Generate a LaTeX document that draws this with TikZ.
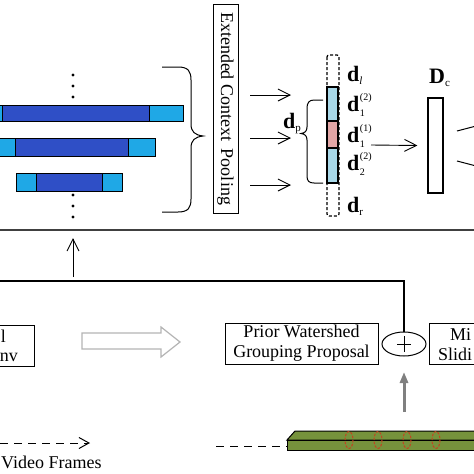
\documentclass[tikz,border=0pt]{standalone}
\usepackage{amsmath}
\usepackage{fontspec}
\setmainfont{Liberation Serif}
\usetikzlibrary{arrows.meta,shapes.geometric}
\definecolor{darkbar}{HTML}{2F4FC6}
\definecolor{lightbar}{HTML}{1FA8E6}
\definecolor{colblue}{HTML}{A8D8E8}
\definecolor{colpink}{HTML}{E2A6A6}
\definecolor{slab}{HTML}{76923C}
\definecolor{ringred}{HTML}{C8401E}
\definecolor{hollow}{HTML}{B4B4B4}
\definecolor{rule}{HTML}{404040}
\newcommand{\scr}[1]{{\fontsize{11}{11}\selectfont #1}}
\newcommand{\scrs}[1]{{\fontsize{10}{10}\selectfont #1}}
\newcommand{\dlab}[2]{\textbf{d}\hspace{0.5pt}\makebox[0pt][l]{\raisebox{10.5pt}{\scrs{#2}}}\raisebox{-5pt}{\scrs{#1}}\hspace{4pt}}
\newcommand{\dsub}[1]{\textbf{d}\raisebox{-3pt}{\scr{#1}}}
\begin{document}
\begin{tikzpicture}[x=1pt,y=-1pt,
  txt/.style={font=\fontsize{18}{20}\selectfont, inner sep=0pt},
  lbl/.style={font=\fontsize{22}{24}\selectfont, inner sep=0pt},
  arr/.style={-{Straight Barb[length=12pt,width=12pt]}, line width=0.9pt},
  bar/.style={draw=black, line width=0.8pt},
  dotm/.style={circle, fill=black, inner sep=0pt, minimum size=3.2pt},
  boxed/.style={draw=black, line width=1pt, inner sep=2pt}]
\useasboundingbox[fill=white] (0,0) rectangle (474,474);

% ---- multi-scale bars ----
\path[fill=lightbar] (-20,105) rectangle (2,121);
\path[fill=darkbar] (2,105) rectangle (149,121);
\path[fill=lightbar] (149,105) rectangle (183,121);
\draw[bar] (-20,105) rectangle (183,121) (2,105) -- (2,121) (149,105) -- (149,121);

\path[fill=lightbar] (-20,138) rectangle (15,156);
\path[fill=darkbar] (15,138) rectangle (128,156);
\path[fill=lightbar] (128,138) rectangle (155,156);
\draw[bar] (-20,138) rectangle (155,156) (15,138) -- (15,156) (128,138) -- (128,156);

\path[fill=lightbar] (16,173) rectangle (36,191);
\path[fill=darkbar] (36,173) rectangle (102,191);
\path[fill=lightbar] (102,173) rectangle (122,191);
\draw[bar] (16,173) rectangle (122,191) (36,173) -- (36,191) (102,173) -- (102,191);

\foreach \yy/\nm in {75/a,86/b,97/c,195/d,206/e,217/f}
  \node[dotm] (dot\nm) at (73,\yy) {};

% ---- big brace ----
\draw[line width=1pt] (162,67) -- (178,67) .. controls (188,67) and (191,71) .. (191,80)
  -- (191,124) .. controls (191,132) and (195,135) .. (203,136)
  .. controls (195,137) and (191,140) .. (191,148)
  -- (191,199) .. controls (191,208) and (188,212) .. (178,212) -- (162,212);

% ---- extended context pooling ----
\node[boxed, minimum width=25pt, minimum height=209pt] (ecp) at (225.5,108.5) {};
\node[txt, rotate=-90] (ecptxt) at (ecp.center) {Extended Context\, Pooling};

% ---- arrows into column ----
\foreach \yy/\nm in {95/a,138/b,185/c}{
  \coordinate (s\nm) at (250,\yy);
  \coordinate (t\nm) at (291,\yy);
  \draw[arr] (s\nm) -- (t\nm);
}

% ---- descriptor column ----
\draw[dashed, dash pattern=on 3pt off 2pt, line width=1.2pt, rounded corners=2pt] (327,55) rectangle (339,216);
\path[fill=colblue] (327,87) rectangle (338,121);
\path[fill=colpink] (327,121) rectangle (338,148);
\path[fill=colblue] (327,148) rectangle (338,183);
\draw[line width=1.2pt] (327,87) rectangle (338,183) (327,121) -- (338,121) (327,148) -- (338,148);

\node[lbl, anchor=base west] (dl) at (347,81) {\textbf{d}\raisebox{-3pt}{\scr{\textit{l}}}};
\node[lbl, anchor=base west] (d12) at (347,111) {\dlab{1}{(2)}};
\node[lbl, anchor=base west] (d11) at (347,142) {\dlab{1}{(1)}};
\node[lbl, anchor=base west] (d22) at (347,170) {\dlab{2}{(2)}};
\node[lbl, anchor=base west] (dr) at (347,212) {\dsub{r}};

% small brace
\draw[line width=1pt] (323,100) -- (314,100) .. controls (309,100) and (307,103) .. (307,108)
  -- (307,127) .. controls (307,131) and (305,133) .. (301,133.5)
  .. controls (305,134) and (307,136) .. (307,140)
  -- (307,176) .. controls (307,181) and (309,183) .. (314,183) -- (323,183);
\node[lbl, anchor=base east] (dp) at (301,128) {\dsub{p}};

% ---- Dc ----
\node[draw=black, line width=1.2pt, minimum width=15pt, minimum height=95pt, inner sep=0pt] (dc) at (435.5,145.5) {};
\node[lbl, anchor=base west] (dclbl) at (429,83) {\textbf{D}\raisebox{-3pt}{\scr{c}}};
\coordinate (cs) at (371,145);
\draw[arr] (cs) -- ([xshift=-10pt]dc.west);
\coordinate (r1a) at (457,131); \coordinate (r1b) at (480,125);
\coordinate (r2a) at (457,161); \coordinate (r2b) at (480,167);
\draw[line width=1pt] (r1a) -- (r1b);
\draw[line width=1pt] (r2a) -- (r2b);

% ---- separator lines ----
\draw[rule, line width=1.8pt] (-5,230) -- (480,230);
\coordinate (uparrA) at (73,277);
\coordinate (uparrB) at (73,238);
\draw[arr] (uparrA) -- (uparrB);

% ---- lower part ----
\node[draw=black, line width=1pt, minimum width=60pt, minimum height=41pt] (leftbox) at (4,345.5) {};
\node[txt, anchor=base east] (ltxt1) at (6,342) {l};
\node[txt, anchor=base east] (ltxt2) at (18,361) {nv};

\draw[hollow, line width=1.2pt, fill=white] (82,333) -- (161,333) -- (161,327) -- (180,342)
  -- (161,357) -- (161,349) -- (82,349) -- cycle;

\node[boxed, txt, draw, line width=1pt, minimum width=153pt, minimum height=41pt, align=center] (pwg) at (301.5,343.5)
  {Prior Watershed\\Grouping Proposal};

\node[draw=black, ellipse, line width=1pt, minimum width=44pt, minimum height=24pt, inner sep=0pt] (plus) at (404,344) {};
\draw[line width=0.9pt] ([xshift=-7pt]plus.center) -- ([xshift=7pt]plus.center)
  ([yshift=-8pt]plus.center) -- ([yshift=8pt]plus.center);

\coordinate (feedA) at (0,281);
\coordinate (feedB) at (404,281);
\draw[line width=1.2pt] (feedA) -- (feedB) -- (plus.north);

\node[draw=black, line width=1pt, minimum width=80pt, minimum height=41pt, anchor=west] (msw) at (429,343.5) {};
\node[txt, anchor=base west] (msw1) at (450,340) {Mi};
\node[txt, anchor=base west] (msw2) at (438,360) {Slidi};

\coordinate (gA) at (404,412);
\coordinate (gB) at (404,372);
\draw[gray, line width=3pt, -{Triangle[length=11pt,width=8pt]}] (gA) -- (gB);

% ---- video frames ----
\coordinate (vA) at (0,443);
\coordinate (vB) at (90,443);
\draw[dash pattern=on 8pt off 6pt, line width=1pt, -{Straight Barb[length=10pt,width=11pt]}] (vA) -- (vB);
\node[txt, anchor=base west] (vf) at (1,468) {Video Frames};

\coordinate (wA) at (216,446);
\coordinate (wB) at (287,446);
\draw[dash pattern=on 8pt off 6pt, line width=1pt] (wA) -- (wB);

% green slab
\draw[fill=slab, line width=1pt] (287,440) -- (295,431) -- (480,431) -- (480,440) -- cycle;
\draw[fill=slab, line width=1pt] (287,440) rectangle (480,450);
\foreach \xx in {349,378,407,436}
  \draw[ringred, dashed, dash pattern=on 2.5pt off 1.5pt, line width=1pt] (\xx,440) ellipse [x radius=4, y radius=8.5];
\end{tikzpicture}
\end{document}
